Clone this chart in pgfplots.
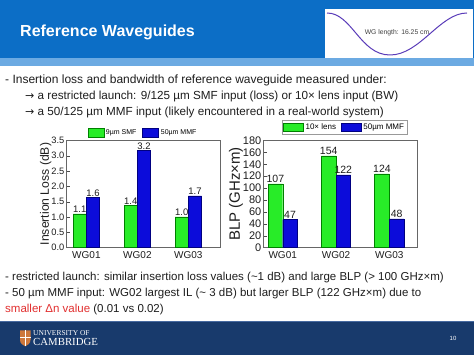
\documentclass[border=0pt]{standalone}
\usepackage{fontspec}
\setmainfont{Liberation Sans}
\newfontfamily\camserif{Liberation Serif}
\newfontfamily\arrowfont{DejaVu Sans}
\usepackage{pgfplots}
\pgfplotsset{compat=1.18}
\definecolor{hdrblue}{RGB}{12,110,198}
\definecolor{hdrlight}{RGB}{108,170,226}
\definecolor{footblue}{RGB}{24,58,108}
\definecolor{footline}{RGB}{70,105,160}
\definecolor{bargreen}{RGB}{40,236,40}
\definecolor{barblue}{RGB}{12,12,218}
\definecolor{txtred}{RGB}{226,48,48}
\definecolor{curvecol}{RGB}{90,60,185}
\definecolor{bodytxt}{RGB}{30,30,30}
\definecolor{shieldcol}{RGB}{205,120,60}
\begin{document}
\begin{tikzpicture}[x=1pt,y=1pt]
\path[use as bounding box] (0pt,0pt) rectangle (474pt,355pt);
\fill[white] (0,0) rectangle (474,355);
% header
\fill[hdrblue] (0,297) rectangle (474,355);
\fill[hdrlight] (0,289) rectangle (474,297);
\node[anchor=base west,inner sep=0pt,text=white,font=\fontsize{16}{18}\selectfont\bfseries] at (20,318) {Reference Waveguides};
% inset
\fill[white] (325,297) rectangle (473,345.5);
\draw[curvecol,line width=1pt] (327,342) .. controls (352,342) and (360,300) .. (390,300) .. controls (420,300) and (440,342) .. (467,342);
\node[font=\fontsize{6.8}{8}\selectfont,text=black!75] at (397,322.5) {WG length: 16.25 cm};
% body text
\node[anchor=base west,inner sep=0pt,text=bodytxt,font=\fontsize{12}{14}\selectfont] at (5,271.5) {- Insertion loss and bandwidth of reference waveguide measured under:};
\begin{scope}[every node/.style={anchor=base west,inner sep=0pt,text=bodytxt,font=\fontsize{11.7}{14}\selectfont}]
\node at (25,255) {{\arrowfont\fontsize{11}{13}\selectfont →} a restricted launch: 9/125 µm SMF input (loss) or 10× lens input (BW)};
\node at (25,239.5) {{\arrowfont\fontsize{11}{13}\selectfont →} a 50/125 µm MMF input (likely encountered in a real-world system)};
\end{scope}
\begin{scope}[every node/.style={anchor=base west,inner sep=0pt,text=bodytxt,font=\fontsize{11.5}{14}\selectfont}]
\node at (5,74.5) {- restricted launch: similar insertion loss values (\textasciitilde 1 dB) and large BLP (> 100 GHz×m)};
\node at (5,58.5) {- 50 µm MMF input: WG02 largest IL (\textasciitilde\ 3 dB) but larger BLP (122 GHz×m) due to};
\node at (5,42.5) {\textcolor{txtred}{smaller Δn value} (0.01 vs 0.02)};
\end{scope}
% footer
\fill[footblue] (0,0) rectangle (474,33.5);
\draw[footline,line width=0.8pt] (0,33.3) -- (474,33.3);
\fill[shieldcol] (20,24.5) -- (30.5,24.5) -- (30.5,15) .. controls (30.5,11.5) and (27.5,9.8) .. (25.25,8.6) .. controls (23,9.8) and (20,11.5) .. (20,15) -- cycle;
\fill[white] (24.5,9) rectangle (26,24.5);
\fill[white] (20,16.8) rectangle (30.5,18.3);
\node[anchor=base west,inner sep=0pt,text=white,font=\camserif\fontsize{7.5}{9}\selectfont] at (33,19) {UNIVERSITY OF};
\node[anchor=base west,inner sep=0pt,text=white,font=\camserif\fontsize{10.8}{12}\selectfont] at (33,9.3) {CAMBRIDGE};
\node[anchor=base,inner sep=0pt,text=white!85,font=\fontsize{6}{7}\selectfont] at (453,14) {10};
% chart 1
\begin{axis}[at={(66pt,107.5pt)},anchor=south west,width=154pt,height=107pt,scale only axis,
  /pgf/number format/assume math mode=true,
  ybar=0pt,bar width=0.26,
  xmin=-0.4,xmax=2.62,ymin=0,ymax=3.5,
  xtick={0,1,2},xticklabels={WG01,WG02,WG03},
  ytick={0,0.5,...,3.5},
  yticklabel style={/pgf/number format/fixed,/pgf/number format/precision=1,/pgf/number format/fixed zerofill,inner sep=1.5pt},
  tick label style={font=\fontsize{9.3}{11}\selectfont,text=bodytxt},
  xticklabel style={font=\fontsize{10}{12}\selectfont},
  x tick style={draw=none},
  y tick style={black!70},
  tick align=inside,ytick pos=left,
  axis line style={black!60},
  ylabel={Insertion Loss (dB)},
  ylabel shift=-5pt,
  ylabel style={font=\fontsize{12.2}{14}\selectfont,text=bodytxt},
  nodes near coords,
  nodes near coords style={font=\fontsize{9.5}{11}\selectfont,text=bodytxt,inner sep=1pt,/pgf/number format/fixed,/pgf/number format/precision=1,/pgf/number format/fixed zerofill},
  legend columns=2,
  legend style={at={(0.5,1.02)},anchor=south,draw=none,fill=none,font=\fontsize{7}{8}\selectfont,inner sep=0pt,
    /tikz/every even column/.append style={column sep=4pt}},
  legend image code/.code={\fill[#1] (0pt,-4.5pt) rectangle (16pt,4.5pt);},
]
\addplot[fill=bargreen,draw=green!50!black] coordinates {(0,1.1) (1,1.37) (2,1.0)};
\addplot[fill=barblue,draw=blue!50!black] coordinates {(0,1.63) (1,3.17) (2,1.69)};
\legend{9µm SMF,50µm MMF}
\end{axis}
% chart 2
\begin{axis}[at={(263pt,107.5pt)},anchor=south west,width=154pt,height=107pt,scale only axis,
  /pgf/number format/assume math mode=true,
  ybar=0pt,bar width=0.275,
  xmin=-0.37,xmax=2.52,ymin=0,ymax=180,
  xtick={0,1,2},xticklabels={WG01,WG02,WG03},
  ytick={0,20,...,180},
  yticklabel style={inner sep=1.5pt},
  tick label style={font=\fontsize{11}{12}\selectfont,text=bodytxt},
  xticklabel style={font=\fontsize{10}{12}\selectfont},
  x tick style={draw=none},
  y tick style={black!70},
  tick align=inside,ytick pos=left,
  axis line style={black!60},
  ylabel={BLP (GHz×m)},
  ylabel shift=-5pt,
  ylabel style={font=\fontsize{15}{17}\selectfont,text=bodytxt},
  nodes near coords,
  nodes near coords style={font=\fontsize{10.5}{12}\selectfont,text=bodytxt,inner sep=1pt},
  legend columns=2,
  legend style={at={(0.53,1.06)},anchor=south,draw=black!40,fill=white,font=\fontsize{8}{9}\selectfont,inner sep=1pt,
    /tikz/every even column/.append style={column sep=3pt}},
  legend image code/.code={\fill[#1] (0pt,-4pt) rectangle (20pt,4pt);},
]
\addplot[fill=bargreen,draw=green!50!black] coordinates {(0,107) (1,154) (2,124)};
\addplot[fill=barblue,draw=blue!50!black] coordinates {(0,47) (1,122) (2,48)};
\legend{10× lens,50µm MMF}
\end{axis}
\end{tikzpicture}
\end{document}
